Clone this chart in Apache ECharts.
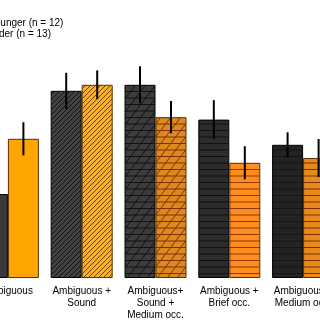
<!DOCTYPE html>
<html style="height: 100%">
<head>
    <meta charset="utf-8">
    <script src="https://cdn.jsdelivr.net/npm/echarts@6/dist/echarts.min.js"></script>
</head>
<body style="height: 100%; margin: 0; background: #fff; overflow: hidden;">
    <div style="position: relative; width: 320px; height: 320px; overflow: hidden;">
        <!-- 图表比窗口宽，左右两侧被裁掉 -->
        <div id="container" style="position: absolute; left: -29px; top: 0; width: 369px; height: 320px;"></div>
    </div>
    <script type="text/javascript">
        // 数据
        var categories = ['Ambiguous', 'Ambiguous +\nSound', 'Ambiguous+\nSound +\nMedium occ.', 'Ambiguous +\nBrief occ.', 'Ambiguous +\nMedium occ.'];
        var seriesNames = ['Younger (n = 12)', 'Older (n = 13)'];
        var younger = [35, 78, 80.5, 66, 55.5];
        var older = [58, 80.5, 67, 48, 50];
        var youngerErr = [7, 7.5, 7.7, 8.1, 5.2];
        var olderErr = [6.9, 6, 6.7, 6.9, 7.9];

        // 填充纹理
        function makePattern(bg, line, kind) {
            if (kind === 'solid') return bg;
            var c = document.createElement('canvas');
            var w = 10, h = 13;
            if (kind === 'diag') { w = 5; h = 5; }
            c.width = w; c.height = h;
            var ctx = c.getContext('2d');
            ctx.fillStyle = bg;
            ctx.fillRect(0, 0, w, h);
            ctx.strokeStyle = line;
            ctx.lineWidth = 1;
            if (kind === 'diag') {
                ctx.beginPath();
                ctx.moveTo(-1, h + 1); ctx.lineTo(w + 1, -1);
                ctx.moveTo(-1, 1); ctx.lineTo(1, -1);
                ctx.moveTo(w - 1, h + 1); ctx.lineTo(w + 1, h - 1);
                ctx.stroke();
            }
            if (kind === 'horiz' || kind === 'brick') {
                ctx.beginPath();
                ctx.moveTo(0, 0.5); ctx.lineTo(w, 0.5);
                ctx.moveTo(0, 7); ctx.lineTo(w, 7);
                ctx.stroke();
            }
            if (kind === 'brick') {
                ctx.beginPath();
                ctx.moveTo(0, h); ctx.lineTo(w, 0);
                ctx.stroke();
            }
            return { image: c, repeat: 'repeat' };
        }

        var youngerStyle = [
            makePattern('#3a3a3a', '#111', 'solid'),
            makePattern('#424242', '#111', 'diag'),
            makePattern('#3c3c3c', '#111', 'brick'),
            makePattern('#2c2c2c', '#111', 'horiz'),
            makePattern('#232323', '#141414', 'horiz')
        ];
        var olderStyle = [
            makePattern('#ffa500', '#7a3b00', 'solid'),
            makePattern('#f5b22a', '#7a3b00', 'diag'),
            makePattern('#d98a20', '#8a2a00', 'brick'),
            makePattern('#ff8c1e', '#8b3a00', 'horiz'),
            makePattern('#e8891e', '#7a3000', 'horiz')
        ];

        var dom = document.getElementById('container');
        var myChart = echarts.init(dom);

        function errorSeries(vals, errs, offset) {
            var data = vals.map(function (v, i) { return [i, v - errs[i], v + errs[i]]; });
            return {
                type: 'custom',
                z: 10,
                silent: true,
                data: data,
                renderItem: function (params, api) {
                    var lo = api.coord([api.value(0), api.value(1)]);
                    var hi = api.coord([api.value(0), api.value(2)]);
                    var x = lo[0] + offset;
                    return {
                        type: 'line',
                        shape: { x1: x, y1: lo[1], x2: x, y2: hi[1] },
                        style: { stroke: '#000', lineWidth: 2 }
                    };
                }
            };
        }

        var option = {
            animation: false,
            legend: {
                orient: 'vertical',
                left: 0,
                top: 18,
                padding: 0,
                itemWidth: 12,
                itemHeight: 8,
                itemGap: 0,
                textStyle: { fontSize: 10, lineHeight: 11, color: '#000', fontFamily: 'Liberation Sans' },
                data: seriesNames
            },
            grid: { left: 0, right: 0, top: 38, bottom: 42, outerBoundsMode: 'none', containLabel: false },
            xAxis: {
                type: 'category',
                data: categories,
                axisLine: { show: false },
                axisTick: { show: false },
                axisLabel: {
                    interval: 0,
                    margin: 7,
                    fontSize: 10,
                    lineHeight: 12,
                    color: '#000',
                    fontFamily: 'Liberation Sans'
                }
            },
            yAxis: {
                type: 'value',
                min: 0,
                max: 100,
                show: false,
                splitLine: { show: false }
            },
            series: [
                {
                    name: seriesNames[0],
                    type: 'bar',
                    barWidth: 31,
                    barGap: '0%',
                    itemStyle: { color: '#333', borderColor: '#000', borderWidth: 1 },
                    data: younger.map(function (v, i) {
                        return { value: v, itemStyle: { color: youngerStyle[i] } };
                    })
                },
                {
                    name: seriesNames[1],
                    type: 'bar',
                    barWidth: 31,
                    barGap: '0%',
                    itemStyle: { color: '#ffa500', borderColor: '#5a3000', borderWidth: 1 },
                    data: older.map(function (v, i) {
                        return { value: v, itemStyle: { color: olderStyle[i] } };
                    })
                },
                errorSeries(younger, youngerErr, -15.5),
                errorSeries(older, olderErr, 15.5)
            ]
        };
        myChart.setOption(option);
    </script>
</body>
</html>
